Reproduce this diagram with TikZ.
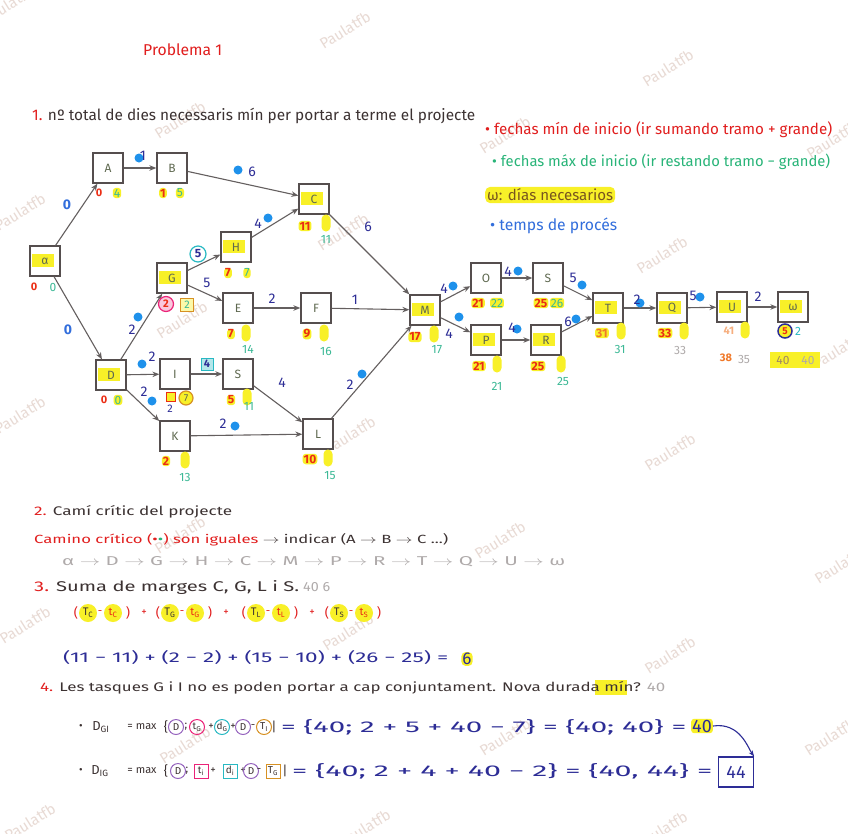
\documentclass[tikz,border=0pt]{standalone}
\usepackage{graphicx}
\usepackage{fontspec}
\setmainfont{Fira Sans}
\usetikzlibrary{arrows.meta}
\definecolor{hlY}{RGB}{248,240,40}
\definecolor{boxc}{RGB}{85,78,78}
\definecolor{lblc}{RGB}{95,105,80}
\definecolor{edgec}{RGB}{100,95,95}
\definecolor{wnavy}{RGB}{45,45,150}
\definecolor{dotb}{RGB}{30,145,235}
\definecolor{nred}{RGB}{235,45,20}
\definecolor{ngreen}{RGB}{60,185,150}
\definecolor{tred}{RGB}{225,30,30}
\definecolor{tgreen}{RGB}{40,180,120}
\definecolor{tblue}{RGB}{50,110,220}
\definecolor{tbrown}{RGB}{120,85,30}
\definecolor{ink}{RGB}{60,50,50}
\definecolor{pgray}{RGB}{175,170,170}
\definecolor{wmc}{RGB}{232,218,212}
\definecolor{cpurple}{RGB}{150,100,190}
\definecolor{cpink}{RGB}{235,35,120}
\definecolor{cteal}{RGB}{40,185,195}
\definecolor{corange}{RGB}{215,145,35}
\definecolor{norange}{RGB}{240,120,40}
\newcommand{\fitw}[2]{\resizebox{#1}{!}{#2}}
\newcommand{\fitwh}[3]{\resizebox{#1}{#2}{#3}}
\begin{document}
\begin{tikzpicture}[x=1pt,y=-1pt,
  box/.style={draw=boxc, line width=1.3pt, minimum width=30pt, minimum height=30pt, inner sep=0pt, fill=white, text=lblc, font=\fontsize{12}{12}\selectfont},
  hl/.style={path picture={\fill[hlY] ([xshift=-13pt,yshift=-6pt]path picture bounding box.center) rectangle ([xshift=9pt,yshift=7pt]path picture bounding box.center);}},
  arr/.style={draw=edgec, line width=1.1pt, -{Stealth[length=7pt,width=5.5pt]}},
  dotn/.style={circle, fill=dotb, minimum size=9pt, inner sep=0pt},
  wt/.style={text=wnavy, font=\fontsize{14}{14}\selectfont, inner sep=0pt},
  rn/.style={text=nred, fill=hlY, rounded corners=3pt, inner sep=1pt, font=\bfseries\fontsize{12}{12}\selectfont},
  rn0/.style={text=nred, inner sep=1pt, font=\bfseries\fontsize{11}{11}\selectfont},
  gny/.style={text=ngreen, fill=hlY, rounded corners=3pt, inner sep=1pt, font=\fontsize{12}{12}\selectfont},
  gn/.style={text=ngreen, inner sep=1pt, font=\fontsize{12}{12}\selectfont},
  yb/.style={fill=hlY, minimum width=9pt, minimum height=17pt, rounded corners=4.5pt, inner sep=0pt},
  wm/.style={text=wmc, rotate=32, font=\fontsize{15}{15}\selectfont},
  txt/.style={anchor=west, inner sep=0pt, text=ink},
  sm/.style={text=ink, inner sep=0pt, font=\fontsize{11}{11}\selectfont},
  big/.style={text=wnavy, inner sep=0pt, anchor=west},
  ccirc/.style={circle, draw, line width=1pt, minimum size=15pt, inner sep=0pt, text=ink, font=\fontsize{10}{10}\selectfont},
  csq/.style={draw, line width=1pt, minimum width=14pt, minimum height=14pt, inner sep=1pt, text=ink, font=\fontsize{10}{10}\selectfont},
  yc/.style={circle, fill=hlY, minimum size=18pt, inner sep=0pt, font=\fontsize{11}{11}\selectfont}
]
\useasboundingbox (0,0) rectangle (848,833);
\fill[white] (0,0) rectangle (848,833);

% watermarks
\foreach \x/\y [count=\k] in {8/5,345/30,668/68,180/120,505/135,832/140,20/212,343/232,662/255,182/320,838/350,20/415,350/435,670/452,180/535,500/540,840/565,25/625,348/632,670/655,185/745,505/737,830/737,30/822,365/828,662/830}
  \node[wm] (wm\k) at (\x,\y) {Paulatfb};

% titles
\node[txt, text=tred] (title) at (143,50) {\fitw{79pt}{Problema 1}};
\node[txt] (h1) at (32,116) {\fitw{443pt}{\textcolor{tred}{1.} nº total de dies necessaris mín per portar a terme el projecte}};
\node[txt, text=tred] (lg1) at (485,130) {\fitw{347pt}{• fechas mín de inicio (ir sumando tramo + grande)}};
\node[txt, text=tgreen] (lg2) at (492,162) {\fitw{338pt}{• fechas máx de inicio (ir restando tramo − grande)}};
\node[txt, text=tbrown, fill=hlY, rounded corners=5pt, inner sep=2pt] (lg3) at (485,195) {\fitw{126pt}{ω: días necesarios}};
\node[txt, text=tblue] (lg4) at (490,226) {\fitw{127pt}{• temps de procés}};

% boxes
\node[box,hl] (alpha) at (45,261) {α};
\node[box] (A) at (108,168) {A};
\node[box] (B) at (172,168) {B};
\node[box,hl] (C) at (314,199) {C};
\node[box,hl] (H) at (236,247) {H};
\node[box,hl] (G) at (172,278) {G};
\node[box] (E) at (238,308) {E};
\node[box] (F) at (316,308) {F};
\node[box,hl] (D) at (111,375) {D};
\node[box] (I) at (175,374) {I};
\node[box] (S) at (238,374) {S};
\node[box] (K) at (175,436) {K};
\node[box] (L) at (318,434) {L};
\node[box,hl] (M) at (425,310) {M};
\node[box] (O) at (486,278) {O};
\node[box] (S2) at (548,278) {S};
\node[box,hl] (P) at (486,340) {P};
\node[box,hl] (R) at (546,340) {R};
\node[box,hl] (T) at (608,308) {T};
\node[box,hl] (Q) at (672,308) {Q};
\node[box,hl] (U) at (732,307) {U};
\node[box,hl] (W) at (793,307) {ω};

% edges
\foreach \a/\b in {alpha/A,alpha/D,A/B,B/C,C/M,G/H,H/C,G/E,E/F,F/M,D/G,D/I,D/K,I/S,S/L,K/L,L/M,M/O,M/P,O/S2,P/R,S2/T,R/T,T/Q,Q/U,U/W}
  \draw[arr] (\a) -- (\b);

% dots and weights
\foreach \x/\y [count=\k] in {139/158,238/170,268/218,138/317,142/364,152/401,235/426,362/374,453/286,459/317,518/271,517/329,582/285,576/319,640/303,700/297}
  \node[dotn] (dot\k) at (\x,\y) {};
\foreach \x/\y/\t [count=\k] in {143/156/1,252/172/6,258/224/4,368/227/6,207/283/5,272/299/2,355/300/1,132/330/2,152/357/2,144/392/2,282/383/4,223/424/2,350/385/2,444/289/4,449/334/4,508/272/4,512/328/4,573/278/5,568/322/6,637/300/2,693/296/5,758/297/2}
  \node[wt] (wt\k) at (\x,\y) {\t};
\node[wt, text=tblue] (w0a) at (67,205) {\bfseries 0};
\node[wt, text=tblue] (w0b) at (68,330) {\bfseries 0};
\node[circle, draw=cteal, line width=1.2pt, minimum size=16pt, inner sep=0pt, text=wnavy, font=\bfseries\fontsize{12}{12}\selectfont] (cGH) at (198,254) {5};
\node[draw=cteal, fill=cteal!35, line width=1pt, minimum size=12pt, inner sep=0pt, text=wnavy, font=\bfseries\fontsize{11}{11}\selectfont] (bIS) at (207,364) {4};

% earliest / latest
\foreach \x/\y/\t [count=\k] in {163/193/1,305/226/11,228/273/7,231/334/7,307/334/9,231/400/5,166/461/2,310/459/10,415/337/17,478/303/21,541/303/25,479/366/21,538/366/25,665/333/33}
  \node[rn] (rn\k) at (\x,\y) {\t};
\node[rn, text=norange] (rT) at (602,333) {31};
\foreach \x/\y/\t [count=\k] in {34/287/0,99/193/0,104/400/0}
  \node[rn0] (rz\k) at (\x,\y) {\t};
\foreach \x/\y/\t [count=\k] in {117/193/4,180/193/5,247/273/7,118/400/0,497/303/22,557/303/26}
  \node[gny] (gy\k) at (\x,\y) {\t};
\node[gn] (ga) at (53,287) {0};
\foreach \x/\y [count=\k] in {326/223,246/333,324/333,247/397,185/460,328/458,434/334,497/364,561/364,621/331,684/331,745/330}
  \node[yb] (yb\k) at (\x,\y) {};
\foreach \x/\y/\t [count=\k] in {326/239/11,248/349/14,326/351/16,249/406/11,185/477/13,330/476/15,437/350/17,497/386/21,563/381/25,620/349/31}
  \node[gn] (gb\k) at (\x,\y) {\t};
\node[gn, text=pgray] (gQ) at (680,350) {33};
\node[rn0, text=norange!60] (u41) at (729,331) {41};
\node[rn0, text=norange] (u38) at (726,358) {38};
\node[gn, text=pgray] (u35) at (744,359) {35};
\node[circle, draw=wnavy, line width=1.5pt, fill=hlY, minimum size=14pt, inner sep=0pt, text=nred, font=\bfseries\fontsize{10}{10}\selectfont] (w5) at (785,331) {5};
\node[gn, text=cteal] (w2) at (798,331) {2};
\node[fill=hlY, minimum width=50pt, minimum height=16pt, inner sep=0pt] (w40hl) at (795,360) {};
\node[gn, text=tbrown!70] (w40) at (783,360) {40};
\node[gn, text=pgray] (w40b) at (808,360) {40};
% G and I specials
\node[circle, draw=cpink, line width=1.2pt, fill=cpink!25, minimum size=15pt, inner sep=0pt, text=nred, font=\bfseries\fontsize{11}{11}\selectfont] (g2a) at (166,304) {2};
\node[draw=corange, line width=1.2pt, fill=hlY!40, minimum size=13pt, inner sep=0pt, text=ngreen, font=\fontsize{11}{11}\selectfont] (g2b) at (187,305) {2};
\node[draw=nred, line width=1.3pt, fill=hlY, minimum size=9pt, inner sep=0pt] (isq) at (171,397) {};
\node[wt, font=\fontsize{11}{11}\selectfont] (i2) at (170,409) {2};
\node[circle, draw=corange, line width=1.2pt, fill=hlY, minimum size=14pt, inner sep=0pt, text=lblc, font=\fontsize{10}{10}\selectfont] (i7) at (186,398) {7};

% section 2
\node[txt] (h2) at (34,512) {\fitwh{198pt}{10pt}{\textcolor{tred}{2.} Camí crític del projecte}};
\node[txt] (cc) at (34,540) {\fitwh{414pt}{10pt}{\textcolor{tred}{Camino crítico (}\textcolor{tred}{•}\textcolor{tgreen}{•}\textcolor{tred}{) son iguales} $\rightarrow$ indicar (A $\rightarrow$ B $\rightarrow$ C ...)}};
\node[txt, text=pgray] (cpath) at (62,562) {\fitwh{503pt}{9pt}{α $\rightarrow$ D $\rightarrow$ G $\rightarrow$ H $\rightarrow$ C $\rightarrow$ M $\rightarrow$ P $\rightarrow$ R $\rightarrow$ T $\rightarrow$ Q $\rightarrow$ U $\rightarrow$ ω}};

% section 3
\node[txt] (h3) at (34,587) {\fitwh{265pt}{11pt}{\textcolor{tred}{3.} Suma de marges C, G, L i S.}};
\node[txt, text=pgray] (h3b) at (303,587) {\fitwh{27pt}{9pt}{40 6}};
\foreach \s/\c [count=\k] in {73/C,155/G,241/L,324/S} {
  \node[sm, text=tred, font=\fontsize{13}{13}\selectfont] (fo\k) at (\s+3,613) {(};
  \node[yc, text=ink] (fT\k) at (\s+15,613) {T\textsubscript{\c}};
  \node[sm, text=tred] (fm\k) at (\s+27,613) {-};
  \node[yc, text=nred] (ft\k) at (\s+40,613) {t\textsubscript{\c}};
  \node[sm, text=tred, font=\fontsize{13}{13}\selectfont] (fc\k) at (\s+55,613) {)};
}
\foreach \x [count=\k] in {144,226,312}
  \node[sm, text=tred] (fp\k) at (\x,613) {+};
\node[big] (nums) at (63,658) {\fitwh{385pt}{12pt}{(11 − 11) + (2 − 2) + (15 − 10) + (26 − 25) =}};
\node[text=wnavy, fill=hlY, rounded corners=4pt, inner sep=1pt, font=\fontsize{17}{17}\selectfont] (six) at (467,659) {6};

% section 4
\node[fill=hlY, minimum width=32pt, minimum height=15pt, inner sep=0pt] (minhl) at (611,687) {};
\node[txt] (h4) at (40,688) {\fitwh{625pt}{10pt}{\textcolor{tred}{4.} Les tasques G i I no es poden portar a cap conjuntament. Nova durada mín? \textcolor{pgray}{40}}};

% line 1
\node[sm] (b1) at (81,727) {•};
\node[sm, font=\fontsize{13}{13}\selectfont] (dgi) at (101,727) {D\textsubscript{GI}};
\node[sm] (mx1) at (142,727) {= max};
\node[sm, font=\fontsize{13}{13}\selectfont] (lb1) at (166,727) {\{};
\node[ccirc, draw=cpurple] (c1a) at (176,727) {D};
\node[sm] (sc1) at (186,727) {;};
\node[ccirc, draw=cpink] (c1b) at (197,727) {t\textsubscript{G}};
\node[sm] (p1a) at (211,727) {+};
\node[ccirc, draw=cteal] (c1c) at (222,727) {d\textsubscript{G}};
\node[sm] (p1b) at (233,727) {+};
\node[ccirc, draw=cpurple] (c1d) at (243,727) {D};
\node[sm] (m1) at (253,727) {-};
\node[ccirc, draw=corange] (c1e) at (264,727) {T\textsubscript{I}};
\node[sm, font=\fontsize{13}{13}\selectfont] (bar1) at (274,727) {|};
\node[big] (r1) at (281,727) {\fitwh{405pt}{13pt}{= \{40; 2 + 5 + 40 − 7\} = \{40; 40\} =}};
\node[text=wnavy, fill=hlY, rounded corners=3pt, inner sep=1pt, font=\fontsize{18}{18}\selectfont] (gi40) at (702,726) {40};

% line 2
\node[sm] (b2) at (81,771) {•};
\node[sm, font=\fontsize{13}{13}\selectfont] (dig) at (100,771) {D\textsubscript{IG}};
\node[sm] (mx2) at (142,771) {= max};
\node[sm, font=\fontsize{13}{13}\selectfont] (lb2) at (166,771) {\{};
\node[ccirc, draw=cpurple] (c2a) at (178,771) {D};
\node[sm] (sc2) at (187,771) {;};
\node[csq, draw=cpink] (s2a) at (201,771) {t\textsubscript{i}};
\node[sm] (p2a) at (213,771) {+};
\node[csq, draw=cteal] (s2b) at (230,771) {d\textsubscript{i}};
\node[sm] (p2b) at (243,771) {+};
\node[ccirc, draw=cpurple] (c2d) at (251,771) {D};
\node[sm] (m2) at (259,771) {-};
\node[csq, draw=corange] (s2c) at (273,771) {T\textsubscript{G}};
\node[sm, font=\fontsize{13}{13}\selectfont] (bar2) at (285,771) {|};
\node[big] (r2) at (292,771) {\fitwh{420pt}{13pt}{= \{40; 2 + 4 + 40 − 2\} = \{40, 44\} =}};
\node[draw=wnavy, line width=1.2pt, minimum width=35pt, minimum height=30pt, inner sep=0pt, text=wnavy, font=\fontsize{18}{18}\selectfont] (b44) at (736,772) {44};
\draw[wnavy, line width=1.1pt, -{Stealth[length=6pt]}] (gi40.east) .. controls (740,722) and (748,748) .. (b44.north east);
\end{tikzpicture}
\end{document}
